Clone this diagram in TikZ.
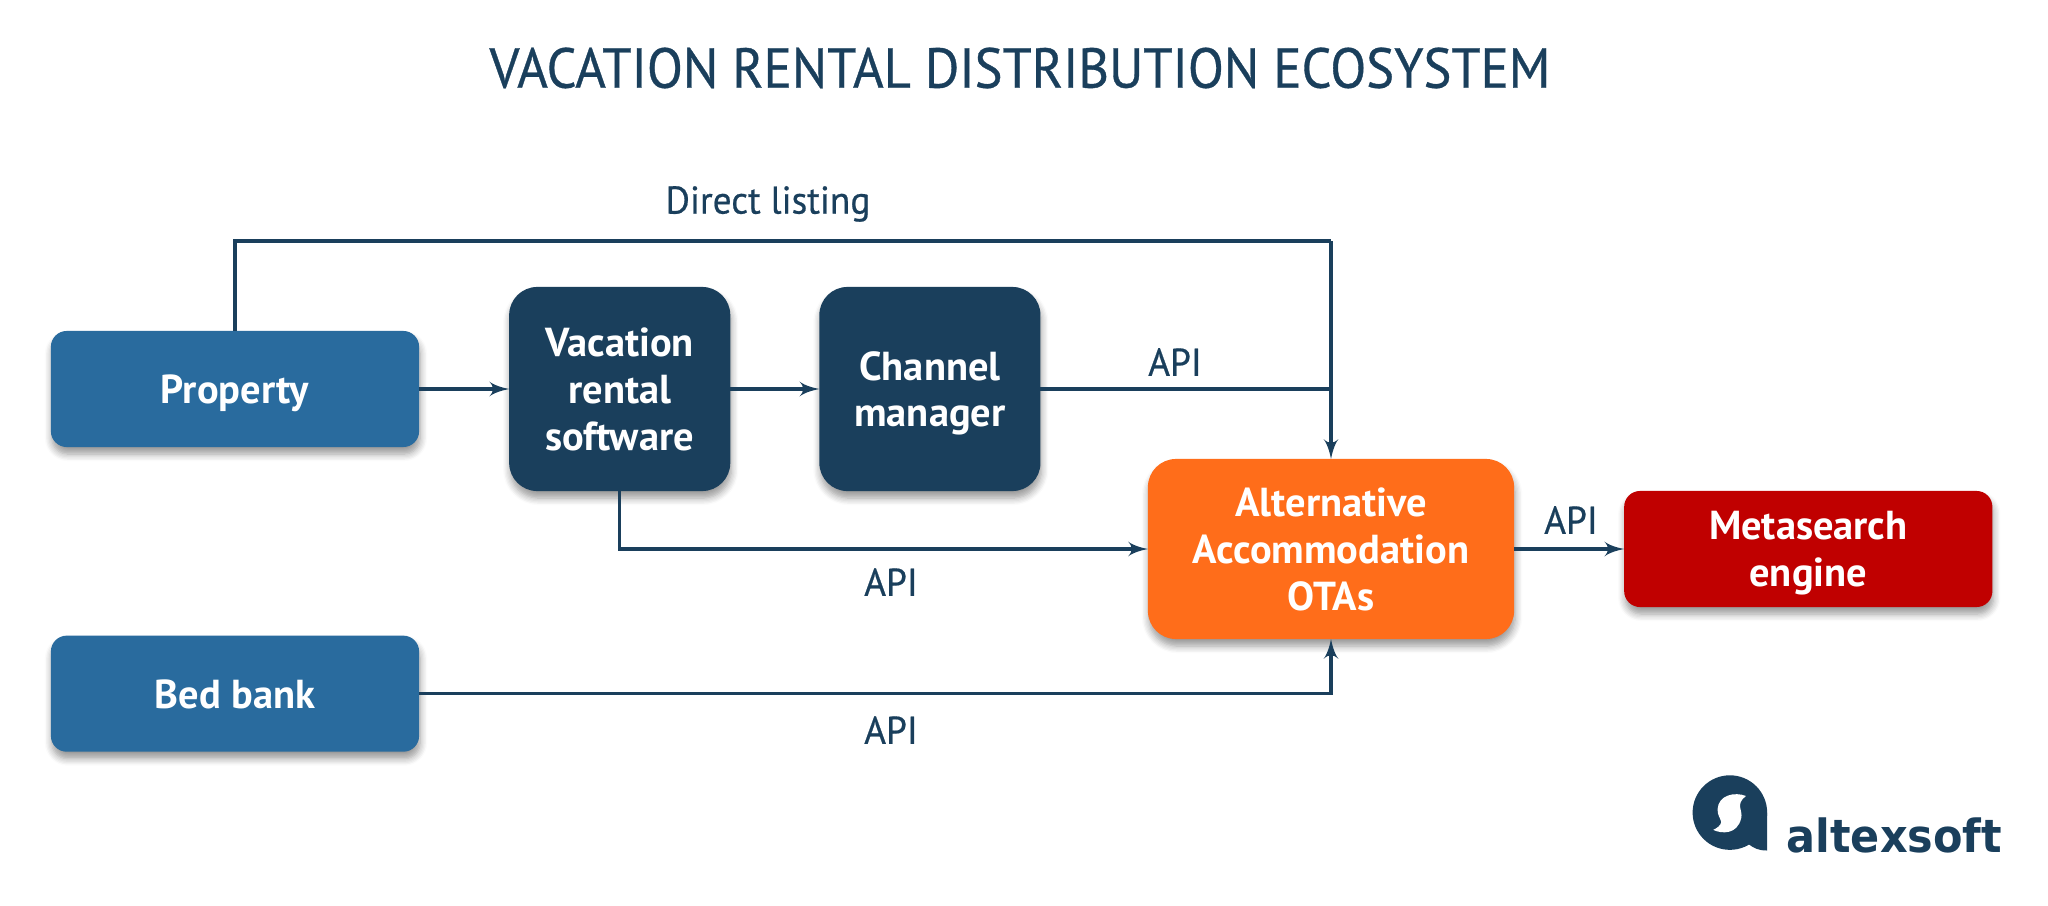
\documentclass[tikz,border=0pt]{standalone}
\usepackage{fontspec}
\setmainfont{PT Sans}
\newfontfamily\titlefont[FakeBold=0.6,FakeStretch=0.935]{PT Sans}
\newfontfamily\labelfont[FakeBold=0.5,FakeStretch=0.965]{PT Sans}
\newfontfamily\logofont[FakeStretch=0.94]{DejaVu Sans Bold}
\definecolor{uinavy}{RGB}{26, 63, 92}
\definecolor{uiblue}{RGB}{41, 107, 158}
\definecolor{uiorange}{RGB}{255, 109, 26}
\definecolor{uired}{RGB}{192, 0, 0}
\usetikzlibrary{arrows}
\usetikzlibrary{positioning}
\usetikzlibrary{shadows}
\usetikzlibrary{shadows.blur}

\begin{document}
\begin{tikzpicture}[->,>=latex',x=0.01cm,y=-0.01cm,line width=0.95pt,color=uinavy,
    box node/.style={rounded corners=4.5pt,text=white,align=center,inner sep=0pt,outer sep=0pt,text depth=0pt,font=\fontsize{11.5}{13.3}\selectfont\bfseries,
      blur shadow={shadow xshift=0.01cm,shadow yshift=-0.07cm,shadow blur steps=6,shadow blur radius=0.07cm}},
    wide node/.style={box node,fill=uiblue,minimum width=3.68cm,minimum height=1.16cm},
    tall node/.style={box node,fill=uinavy,rounded corners=8pt,minimum width=2.21cm,minimum height=2.04cm},
    link label/.style={font=\fontsize{11}{13}\labelfont\selectfont,inner sep=0pt}]
    \useasboundingbox (0,0) rectangle (2048,906);

    \node[font=\fontsize{16}{19}\titlefont\selectfont,inner sep=0pt] (title) at (1020,68) {VACATION RENTAL DISTRIBUTION ECOSYSTEM};

    \node[wide node] (property) at (235,389) {Property};
    \node[tall node] (software) [right=0.90cm of property] {Vacation\\rental\\software};
    \node[tall node] (channel) [right=0.89cm of software] {Channel\\manager};
    \node[box node,fill=uiorange,rounded corners=8pt,minimum width=3.66cm,minimum height=1.80cm] (otas) at (1331,549) {Alternative\\Accommodation\\OTAs};
    \node[wide node,fill=uired] (metasearch) [right=1.10cm of otas] {Metasearch\\engine};
    \node[wide node] (bedbank) [below=1.885cm of property] {Bed bank};

    \coordinate (listing) at (otas.north |- 0,241);
    \draw (property) -- (software);
    \draw (software) -- (channel);
    \draw (otas) -- (metasearch);
    \draw[-] (property.north) |- (listing);
    \draw (listing) -- (otas.north);
    \draw[-] (channel.east) -- (channel.east -| otas.north);
    \draw (software.south) |- (otas.west);
    \draw (bedbank.east) -| (otas.south);

    \node[link label] (listinglabel) at (768,204) {Direct listing};
    \node[link label] (channelapi) at (1175,362) {API};
    \node[link label] (softwareapi) at (891,582) {API};
    \node[link label] (bedbankapi) at (891,730) {API};
    \node[link label] (otasapi) at (1571,520) {API};

    \begin{scope}[-,shift={(1650,750)},x=0.00333cm,y=-0.00333cm]
      \fill[uinavy] (240,188) circle (112);
      \fill[uinavy] (352,188) -- (352,302) .. controls (325,302) and (312,295) .. (295,282) -- cycle;
      \fill[white] (288,138) .. controls (255,125) and (205,135) .. (203,178)
        .. controls (202,195) and (212,205) .. (214,217)
        .. controls (212,228) and (200,235) .. (190,240)
        .. controls (215,252) and (262,255) .. (274,205)
        .. controls (280,180) and (255,165) .. (288,138) -- cycle;
    \end{scope}
    \node[font=\fontsize{13}{16}\logofont\selectfont,anchor=base west,inner sep=0pt] (logotext) at (1785,852) {altexsoft};
  \end{tikzpicture}
\end{document}
